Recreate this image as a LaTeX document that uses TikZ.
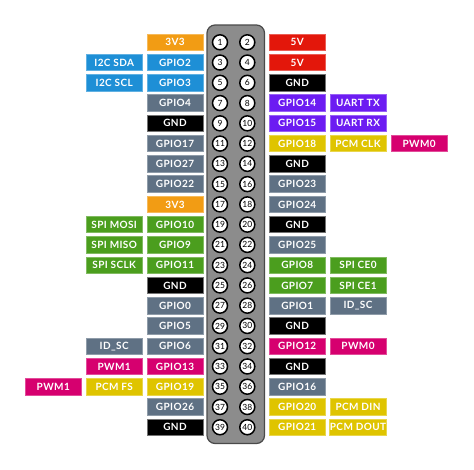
\documentclass[tikz,border=0pt]{standalone}
\usepackage{fontspec}
\setmainfont{Lato}
\newfontfamily\pinfont[LetterSpace=4]{Lato}

\definecolor{pinorange}{HTML}{F29C14}
\definecolor{pinblue}{HTML}{1E8FD6}
\definecolor{pingrey}{HTML}{5F7184}
\definecolor{pinred}{HTML}{E3170B}
\definecolor{pinpurple}{HTML}{6C1CF2}
\definecolor{pinyellow}{HTML}{DFC400}
\definecolor{pingreen}{HTML}{4B9E1E}
\definecolor{pinpink}{HTML}{D6006F}
\definecolor{headgrey}{HTML}{8C8C8C}
\definecolor{headdark}{HTML}{4A4A4A}

\begin{document}
\begin{tikzpicture}[x=1pt,y=-1pt,
	pinbox/.style={rectangle,draw=#1!70!white,fill=#1,line width=0.9pt,minimum width=56pt,minimum height=16.5pt,inner sep=0pt,text=white,font=\pinfont\bfseries\fontsize{10}{11}\selectfont},
	gndbox/.style={pinbox=black,draw=black!55!white},
	pinnum/.style={circle,draw=black,fill=white,line width=1.5pt,minimum size=15pt,inner sep=0pt,font=\fontsize{8.5}{9}\selectfont}
]
\useasboundingbox (0,0) rectangle (474,469);

% Stecker
\draw[fill=headgrey,draw=headdark,line width=1.2pt,rounded corners=8pt] (207,25) rectangle (264.5,443.5);
\foreach \r in {0,...,19}{
	\pgfmathtruncatemacro{\odd}{2*\r+1}
	\pgfmathtruncatemacro{\even}{2*\r+2}
	\node[pinnum] (p\odd) at (220,42.3+20.26*\r) {\odd};
	\node[pinnum] (p\even) at (247.3,42.3+20.26*\r) {\even};
}

% linke Seite
\node[pinbox=pinorange] (n1) at (175,42.3) {3V3};
\node[pinbox=pinblue] (n3) at (175,62.6) {GPIO2};
\node[pinbox=pinblue] (f3) at (114.2,62.6) {I2C SDA};
\node[pinbox=pinblue] (n5) at (175,82.8) {GPIO3};
\node[pinbox=pinblue] (f5) at (114.2,82.8) {I2C SCL};
\node[pinbox=pingrey] (n7) at (175,103.1) {GPIO4};
\node[gndbox] (n9) at (175,123.3) {GND};
\node[pinbox=pingrey] (n11) at (175,143.6) {GPIO17};
\node[pinbox=pingrey] (n13) at (175,163.9) {GPIO27};
\node[pinbox=pingrey] (n15) at (175,184.1) {GPIO22};
\node[pinbox=pinorange] (n17) at (175,204.4) {3V3};
\node[pinbox=pingreen] (n19) at (175,224.6) {GPIO10};
\node[pinbox=pingreen] (f19) at (114.2,224.6) {SPI MOSI};
\node[pinbox=pingreen] (n21) at (175,244.9) {GPIO9};
\node[pinbox=pingreen] (f21) at (114.2,244.9) {SPI MISO};
\node[pinbox=pingreen] (n23) at (175,265.2) {GPIO11};
\node[pinbox=pingreen] (f23) at (114.2,265.2) {SPI SCLK};
\node[gndbox] (n25) at (175,285.4) {GND};
\node[pinbox=pingrey] (n27) at (175,305.7) {GPIO0};
\node[pinbox=pingrey] (n29) at (175,325.9) {GPIO5};
\node[pinbox=pingrey] (n31) at (175,346.2) {GPIO6};
\node[pinbox=pingrey] (f31) at (114.2,346.2) {ID\_SC};
\node[pinbox=pinpink] (n33) at (175,366.5) {GPIO13};
\node[pinbox=pinpink] (f33) at (114.2,366.5) {PWM1};
\node[pinbox=pinyellow] (n35) at (175,386.7) {GPIO19};
\node[pinbox=pinyellow] (f35) at (114.2,386.7) {PCM FS};
\node[pinbox=pinpink] (g35) at (53.3,386.7) {PWM1};
\node[pinbox=pingrey] (n37) at (175,407.0) {GPIO26};
\node[gndbox] (n39) at (175,427.2) {GND};

% rechte Seite
\node[pinbox=pinred] (n2) at (297.2,42.3) {5V};
\node[pinbox=pinred] (n4) at (297.2,62.6) {5V};
\node[gndbox] (n6) at (297.2,82.8) {GND};
\node[pinbox=pinpurple] (n8) at (297.2,103.1) {GPIO14};
\node[pinbox=pinpurple] (f8) at (358,103.1) {UART TX};
\node[pinbox=pinpurple] (n10) at (297.2,123.3) {GPIO15};
\node[pinbox=pinpurple] (f10) at (358,123.3) {UART RX};
\node[pinbox=pinyellow] (n12) at (297.2,143.6) {GPIO18};
\node[pinbox=pinyellow] (f12) at (358,143.6) {PCM CLK};
\node[pinbox=pinpink] (g12) at (419.2,143.6) {PWM0};
\node[gndbox] (n14) at (297.2,163.9) {GND};
\node[pinbox=pingrey] (n16) at (297.2,184.1) {GPIO23};
\node[pinbox=pingrey] (n18) at (297.2,204.4) {GPIO24};
\node[gndbox] (n20) at (297.2,224.6) {GND};
\node[pinbox=pingrey] (n22) at (297.2,244.9) {GPIO25};
\node[pinbox=pingreen] (n24) at (297.2,265.2) {GPIO8};
\node[pinbox=pingreen] (f24) at (358,265.2) {SPI CE0};
\node[pinbox=pingreen] (n26) at (297.2,285.4) {GPIO7};
\node[pinbox=pingreen] (f26) at (358,285.4) {SPI CE1};
\node[pinbox=pingrey] (n28) at (297.2,305.7) {GPIO1};
\node[pinbox=pingrey] (f28) at (358,305.7) {ID\_SC};
\node[gndbox] (n30) at (297.2,325.9) {GND};
\node[pinbox=pinpink] (n32) at (297.2,346.2) {GPIO12};
\node[pinbox=pinpink] (f32) at (358,346.2) {PWM0};
\node[gndbox] (n34) at (297.2,366.5) {GND};
\node[pinbox=pingrey] (n36) at (297.2,386.7) {GPIO16};
\node[pinbox=pinyellow] (n38) at (297.2,407.0) {GPIO20};
\node[pinbox=pinyellow] (f38) at (358,407.0) {PCM DIN};
\node[pinbox=pinyellow] (n40) at (297.2,427.2) {GPIO21};
\node[pinbox=pinyellow] (f40) at (358,427.2) {PCM DOUT};

\end{tikzpicture}
\end{document}
